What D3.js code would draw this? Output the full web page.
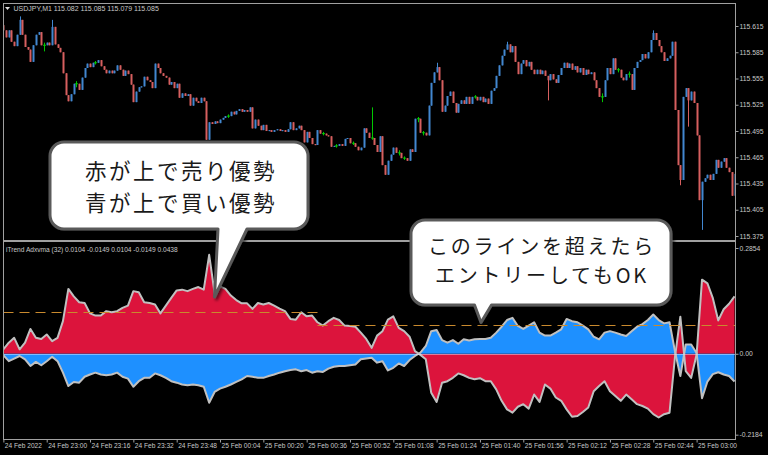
<!DOCTYPE html>
<html><head><meta charset="utf-8">
<script src="https://cdn.jsdelivr.net/npm/d3@7/dist/d3.min.js"></script>
<style>
html,body{margin:0;padding:0;background:#000;overflow:hidden;}
svg{display:block;}
</style></head>
<body>
<svg id="chart" width="768" height="455"></svg>
<script>
// ---------------- data ----------------
const symbolTitle = "USDJPY,M1  115.082 115.085 115.079 115.085";
const indicatorTitle = "iTrend Adxvma (32) 0.0104 -0.0149 0.0104 -0.0149 0.0438";
const firstOpen = 115.616;
const closes = [
115.610,115.602,115.610,115.597,115.592,115.605,115.622,115.605,115.591,115.588,
115.574,115.593,115.605,115.608,115.593,115.593,115.596,115.593,115.614,115.594,
115.590,115.585,115.561,115.536,115.529,115.537,115.549,115.549,115.542,115.556,
115.567,115.572,115.568,115.573,115.573,115.576,115.569,115.565,115.561,115.564,
115.561,115.564,115.570,115.565,115.558,115.564,115.560,115.548,115.528,115.540,
115.545,115.546,115.557,115.553,115.551,115.544,115.572,115.567,115.561,115.558,
115.556,115.548,115.551,115.544,115.549,115.533,115.538,115.535,115.537,115.524,
115.533,115.529,115.527,115.533,115.529,115.485,115.505,115.503,115.506,115.504,
115.508,115.510,115.512,115.512,115.517,115.514,115.518,115.520,115.517,115.519,
115.517,115.522,115.498,115.508,115.501,115.496,115.502,115.495,115.496,115.494,
115.496,115.497,115.495,115.496,115.494,115.497,115.505,115.496,115.498,115.501,
115.496,115.482,115.494,115.487,115.480,115.479,115.496,115.492,115.492,115.490,
115.489,115.477,115.478,115.478,115.480,115.478,115.486,115.487,115.481,115.481,
115.477,115.473,115.476,115.498,115.493,115.487,115.487,115.479,115.471,115.489,
115.456,115.445,115.461,115.468,115.476,115.470,115.470,115.464,115.464,115.461,
115.474,115.471,115.509,115.509,115.493,115.493,115.490,115.524,115.550,115.562,
115.568,115.553,115.517,115.524,115.535,115.540,115.527,115.516,115.526,115.530,
115.526,115.534,115.526,115.534,115.534,115.530,115.534,115.528,115.532,115.526,
115.541,115.544,115.558,115.570,115.581,115.588,115.594,115.585,115.592,115.574,
115.560,115.572,115.576,115.569,115.574,115.565,115.560,115.565,115.560,115.564,
115.558,115.553,115.560,115.554,115.550,115.559,115.567,115.573,115.567,115.572,
115.565,115.569,115.562,115.567,115.559,115.565,115.560,115.562,115.553,115.544,
115.534,115.534,115.553,115.567,115.560,115.578,115.565,115.565,115.556,115.553,
115.560,115.560,115.542,115.567,115.574,115.576,115.583,115.578,115.585,115.599,
115.607,115.599,115.592,115.585,115.575,115.578,115.581,115.597,115.519,115.456,
115.439,115.534,115.544,115.530,115.540,115.527,115.490,115.416,115.437,115.441,
115.445,115.439,115.446,115.462,115.453,115.460,115.464,115.453,115.448,115.421,115.446
];
// notable wick extremes: [bar, price]
const highMarks = [[6,115.626],[15,115.596],[18,115.622],[27,115.552],[34,115.575],[83,115.514],
  [118,115.494],[123,115.480],[129,115.483],[136,115.522],[146,115.473],[148,115.466],[153,115.511],
  [155,115.495],[160,115.573],[174,115.536],[186,115.597],[221,115.538],[227,115.567],[231,115.563],[240,115.610]];
const lowMarks = [[15,115.586],[27,115.545],[34,115.571],[83,115.510],[118,115.490],[123,115.476],
  [129,115.479],[136,115.485],[146,115.467],[148,115.462],[153,115.505],[155,115.490],[174,115.532],
  [201,115.530],[221,115.528],[227,115.562],[231,115.556],[250,115.433],[253,115.500],[258,115.382]];

const priceTicks = [115.615,115.585,115.555,115.525,115.495,115.465,115.435,115.405,115.375];
const timeTickBars = [0,16,32,48,64,80,96,112,128,144,160,176,192,208,224,240,256];
const timeLabels = ["24 Feb 2022","24 Feb 23:00","24 Feb 23:16","24 Feb 23:32","24 Feb 23:48",
  "25 Feb 00:04","25 Feb 00:20","25 Feb 00:36","25 Feb 00:52","25 Feb 01:08","25 Feb 01:24",
  "25 Feb 01:40","25 Feb 01:56","25 Feb 02:12","25 Feb 02:28","25 Feb 02:44","25 Feb 03:00"];

// indicator, one value every indStep bars
const indStep = 2;
const sellLine = [
0.012,0.030,0.043,0.012,0.030,0.067,0.043,0.040,0.052,0.034,
0.043,0.088,0.175,0.155,0.139,0.137,0.109,0.103,0.103,0.115,
0.112,0.115,0.124,0.130,0.169,0.166,0.139,0.137,0.133,0.109,
0.130,0.151,0.171,0.173,0.169,0.175,0.180,0.173,0.267,0.164,
0.182,0.175,0.157,0.145,0.136,0.136,0.121,0.137,0.133,0.137,
0.130,0.122,0.115,0.094,0.092,0.112,0.101,0.103,0.085,0.076,
0.088,0.097,0.091,0.076,0.075,0.073,0.057,0.040,0.016,0.049,
0.061,0.092,0.101,0.070,0.061,0.046,0.007,-0.003,-0.015,-0.105,
-0.130,-0.078,-0.074,-0.065,-0.053,-0.058,-0.065,-0.069,-0.066,-0.074,
-0.074,-0.096,-0.127,-0.150,-0.159,-0.143,-0.136,-0.148,-0.110,-0.130,
-0.083,-0.094,-0.118,-0.127,-0.150,-0.170,-0.168,-0.157,-0.145,-0.101,
-0.087,-0.074,-0.101,-0.114,-0.127,-0.110,-0.123,-0.136,-0.141,-0.148,
-0.163,-0.172,-0.163,-0.159,-0.010,0.100,-0.047,-0.065,-0.002,0.200,
0.190,0.150,0.090,0.120,0.135,0.155];
const buyLine = [
-0.004,-0.020,-0.013,-0.006,-0.015,-0.033,-0.022,-0.031,-0.020,-0.008,
-0.020,-0.051,-0.087,-0.076,-0.078,-0.062,-0.056,-0.051,-0.056,-0.058,
-0.056,-0.051,-0.062,-0.067,-0.089,-0.074,-0.065,-0.065,-0.053,-0.058,
-0.065,-0.074,-0.078,-0.083,-0.085,-0.083,-0.085,-0.089,-0.132,-0.103,
-0.094,-0.089,-0.083,-0.076,-0.069,-0.060,-0.062,-0.065,-0.065,-0.060,
-0.056,-0.051,-0.047,-0.044,-0.042,-0.047,-0.044,-0.051,-0.047,-0.049,
-0.040,-0.035,-0.033,-0.033,-0.031,-0.029,-0.015,-0.013,-0.011,-0.024,
-0.020,-0.045,-0.038,-0.026,-0.033,-0.017,-0.006,0.003,0.021,0.061,
0.064,0.037,0.030,0.037,0.027,0.039,0.036,0.039,0.040,0.040,
0.043,0.057,0.073,0.091,0.097,0.075,0.067,0.076,0.085,0.057,
0.049,0.049,0.057,0.066,0.094,0.088,0.085,0.076,0.066,0.046,
0.039,0.057,0.061,0.057,0.052,0.048,0.061,0.073,0.080,0.091,
0.106,0.091,0.082,0.085,0.007,-0.060,0.025,0.025,0.002,-0.120,
-0.075,-0.055,-0.050,-0.056,-0.060,-0.075];
const indTickValues = [0.2854, 0, -0.2184];
const indTickLabels = ["0.2854","0.00","-0.2184"];
const entryLevels = [0.112, 0.078];
const entryLevelBreakBar = 116;
const lastBar = 270;

const bubble1Lines = ["赤が上で売り優勢","青が上で買い優勢"];
const bubble2Lines = ["このラインを超えたら","エントリーしてもOK"];

// ---------------- layout / style ----------------
const C = {
  bull:"#4287d0", bear:"#d65f5f", doji:"#00c800",
  sell:"#dc143c", buy:"#1e90ff", outline:"#c0c0c0",
  frame:"#a0a0a0", text:"#c8c8c8", level:"#c98a2e"
};
const L = {left:3.5, right:735.5, top:3.5, sep:241, bottom:439.5};

const svg = d3.select("#chart");
svg.append("rect").attr("width",768).attr("height",455).attr("fill","#000");

const defs = svg.append("defs");
defs.append("clipPath").attr("id","clipMain").append("rect")
  .attr("x",L.left).attr("y",L.top).attr("width",L.right-L.left).attr("height",L.sep-L.top-0.5);
defs.append("clipPath").attr("id","clipInd").append("rect")
  .attr("x",L.left).attr("y",L.sep+1).attr("width",L.right-L.left).attr("height",L.bottom-L.sep-1);
const f = defs.append("filter").attr("id","shadow").attr("x","-10%").attr("y","-10%").attr("width","130%").attr("height","140%");
f.append("feDropShadow").attr("dx",2).attr("dy",2).attr("stdDeviation",1.5).attr("flood-color","#000").attr("flood-opacity",0.6);

// scales
const x = d3.scaleLinear().domain([0,256]).range([3.37,696.6]);
const yP = d3.scaleLinear().domain([115.375,115.615]).range([236,26]);
const yI = d3.scaleLinear().domain([-0.2184,0.2854]).range([434.7,248]);

// ---------------- candles ----------------
const bars = closes.map((c,i)=>{
  const o = i===0 ? firstOpen : closes[i-1];
  return {i, o, c, h:Math.max(o,c), l:Math.min(o,c)};
});
highMarks.forEach(([i,p])=>{bars[i].h=p;});
lowMarks.forEach(([i,p])=>{bars[i].l=p;});
const colorOf = b => b.c > b.o + 1e-9 ? C.bull : (b.c < b.o - 1e-9 ? C.bear : C.doji);

const gMain = svg.append("g").attr("clip-path","url(#clipMain)");
const gBar = gMain.selectAll("g.bar").data(bars).join("g").attr("class","bar");
gBar.append("rect")
  .attr("x",d=>Math.round(x(d.i)))
  .attr("width",1)
  .attr("y",d=>yP(d.h))
  .attr("height",d=>Math.max(1,yP(d.l)-yP(d.h)))
  .attr("fill",colorOf);
gBar.append("rect")
  .attr("x",d=>Math.round(x(d.i)) - (colorOf(d)===C.doji ? 1 : 0.5))
  .attr("width",d=>colorOf(d)===C.doji ? 3 : 2)
  .attr("y",d=>colorOf(d)===C.doji ? yP(d.c)-0.5 : yP(Math.max(d.o,d.c)))
  .attr("height",d=>colorOf(d)===C.doji ? 1 : Math.max(1, yP(Math.min(d.o,d.c)) - yP(Math.max(d.o,d.c))))
  .attr("fill",colorOf);

// ---------------- indicator ----------------
const ind = sellLine.map((v,k)=>({bar:k*indStep, s:v, b:buyLine[k]}));
const gInd = svg.append("g").attr("clip-path","url(#clipInd)");
gInd.append("path").datum(ind)
  .attr("d", d3.area().x(d=>x(d.bar)).y0(yI(0)).y1(d=>yI(d.s)))
  .attr("fill",C.sell);
gInd.append("path").datum(ind)
  .attr("d", d3.area().x(d=>x(d.bar)).y0(yI(0)).y1(d=>yI(d.b)))
  .attr("fill",C.buy);
gInd.append("path").datum(ind)
  .attr("d", d3.line().x(d=>x(d.bar)).y(d=>yI(d.s)))
  .attr("fill","none").attr("stroke",C.outline).attr("stroke-width",2).attr("stroke-linejoin","round");
gInd.append("path").datum(ind)
  .attr("d", d3.line().x(d=>x(d.bar)).y(d=>yI(d.b)))
  .attr("fill","none").attr("stroke",C.outline).attr("stroke-width",2).attr("stroke-linejoin","round");

// entry level (dashed)
const levelSegs = [[0, entryLevelBreakBar, entryLevels[0]], [entryLevelBreakBar, lastBar, entryLevels[1]]];
gInd.selectAll("line.lvl").data(levelSegs).join("line").attr("class","lvl")
  .attr("x1",d=>d[0]===0 ? L.left : x(d[0])).attr("x2",d=>d[1]===lastBar ? L.right : x(d[1]))
  .attr("y1",d=>Math.round(yI(d[2]))+0.5).attr("y2",d=>Math.round(yI(d[2]))+0.5)
  .attr("stroke",C.level).attr("stroke-width",1).attr("stroke-dasharray","10,6");
// zero line (dotted)
gInd.append("line")
  .attr("x1",L.left).attr("x2",L.right)
  .attr("y1",Math.round(yI(0))+0.5).attr("y2",Math.round(yI(0))+0.5)
  .attr("stroke","#dfe6ff").attr("stroke-width",1).attr("stroke-dasharray","1,1");

// ---------------- frame ----------------
const fr = svg.append("g").attr("stroke",C.frame).attr("fill","none");
fr.append("rect").attr("x",L.left).attr("y",L.top).attr("width",L.right-L.left).attr("height",L.bottom-L.top);
fr.append("line").attr("x1",L.left).attr("x2",L.right).attr("y1",L.sep).attr("y2",L.sep).attr("stroke-width",2);

// ---------------- axes ----------------
const axisFont = "Liberation Sans, Arial, sans-serif";
function styleAxis(g){
  g.select(".domain").remove();
  g.selectAll("line").attr("stroke",C.frame);
  g.selectAll("text").attr("fill",C.text).attr("font-family",axisFont).attr("font-size","6.8px");
}
svg.append("g").attr("transform",`translate(${L.right},0)`)
  .call(d3.axisRight(yP).tickValues(priceTicks).tickFormat(d3.format(".3f")).tickSize(3).tickPadding(1))
  .call(styleAxis);
svg.append("g").attr("transform",`translate(${L.right},0)`)
  .call(d3.axisRight(yI).tickValues(indTickValues).tickFormat((d,i)=>indTickLabels[i]).tickSize(3).tickPadding(1))
  .call(styleAxis);
const xAx = svg.append("g").attr("transform",`translate(0,${L.bottom})`)
  .call(d3.axisBottom(x).tickValues(timeTickBars).tickFormat((d,i)=>timeLabels[i]).tickSize(3).tickPadding(1))
  .call(styleAxis);
xAx.selectAll("text").attr("text-anchor","start").attr("dx","1px").attr("font-size","6.6px");

// ---------------- titles ----------------
svg.append("path").attr("d","M5,7 L10,7 L7.5,10 Z").attr("fill","#e0e0e0");
svg.append("text").attr("x",13.5).attr("y",11).text(symbolTitle)
  .attr("fill",C.text).attr("font-family",axisFont).attr("font-size","7px");
svg.append("text").attr("x",6).attr("y",252).text(indicatorTitle)
  .attr("fill",C.text).attr("font-family",axisFont).attr("font-size","6.6px");

// ---------------- callout bubbles ----------------
function bubblePath(b){
  const {x0,y0,x1,y1,r,tl,tr,tipX,tipY} = b;
  return `M${x0+r},${y0} L${x1-r},${y0} A${r},${r} 0 0 1 ${x1},${y0+r} L${x1},${y1-r} A${r},${r} 0 0 1 ${x1-r},${y1}`+
    ` L${tr},${y1} L${tipX},${tipY} L${tl},${y1} L${x0+r},${y1} A${r},${r} 0 0 1 ${x0},${y1-r} L${x0},${y0+r} A${r},${r} 0 0 1 ${x0+r},${y0} Z`;
}
const bubbles = [
  {shape:{x0:50,y0:142,x1:308,y1:229,r:14,tl:218,tr:247,tipX:214.5,tipY:297}, lines:bubble1Lines, cx:181, y:169.5, gap:31.5, size:21.5, ls:2.5},
  {shape:{x0:411,y0:220,x1:671,y1:305,r:14,tl:474.5,tr:491.5,tipX:481,tipY:322.5}, lines:bubble2Lines, cx:542, y:245, gap:29.2, size:20, ls:2.8}
];
const gB = svg.append("g");
bubbles.forEach(b=>{
  gB.append("path").attr("d",bubblePath(b.shape)).attr("fill","#fff")
    .attr("stroke","#5a5a5a").attr("stroke-width",3).attr("stroke-linejoin","round").attr("filter","url(#shadow)");
  b.lines.forEach((line,k)=>{
    gB.append("text").attr("x",b.cx).attr("y",b.y + k*b.gap).text(line)
      .attr("text-anchor","middle").attr("dominant-baseline","central")
      .attr("letter-spacing",b.ls+"px")
      .attr("font-family","'Noto Sans CJK JP', sans-serif").attr("font-size",b.size+"px").attr("fill","#1a1a1a");
  });
});
</script>
</body></html>
